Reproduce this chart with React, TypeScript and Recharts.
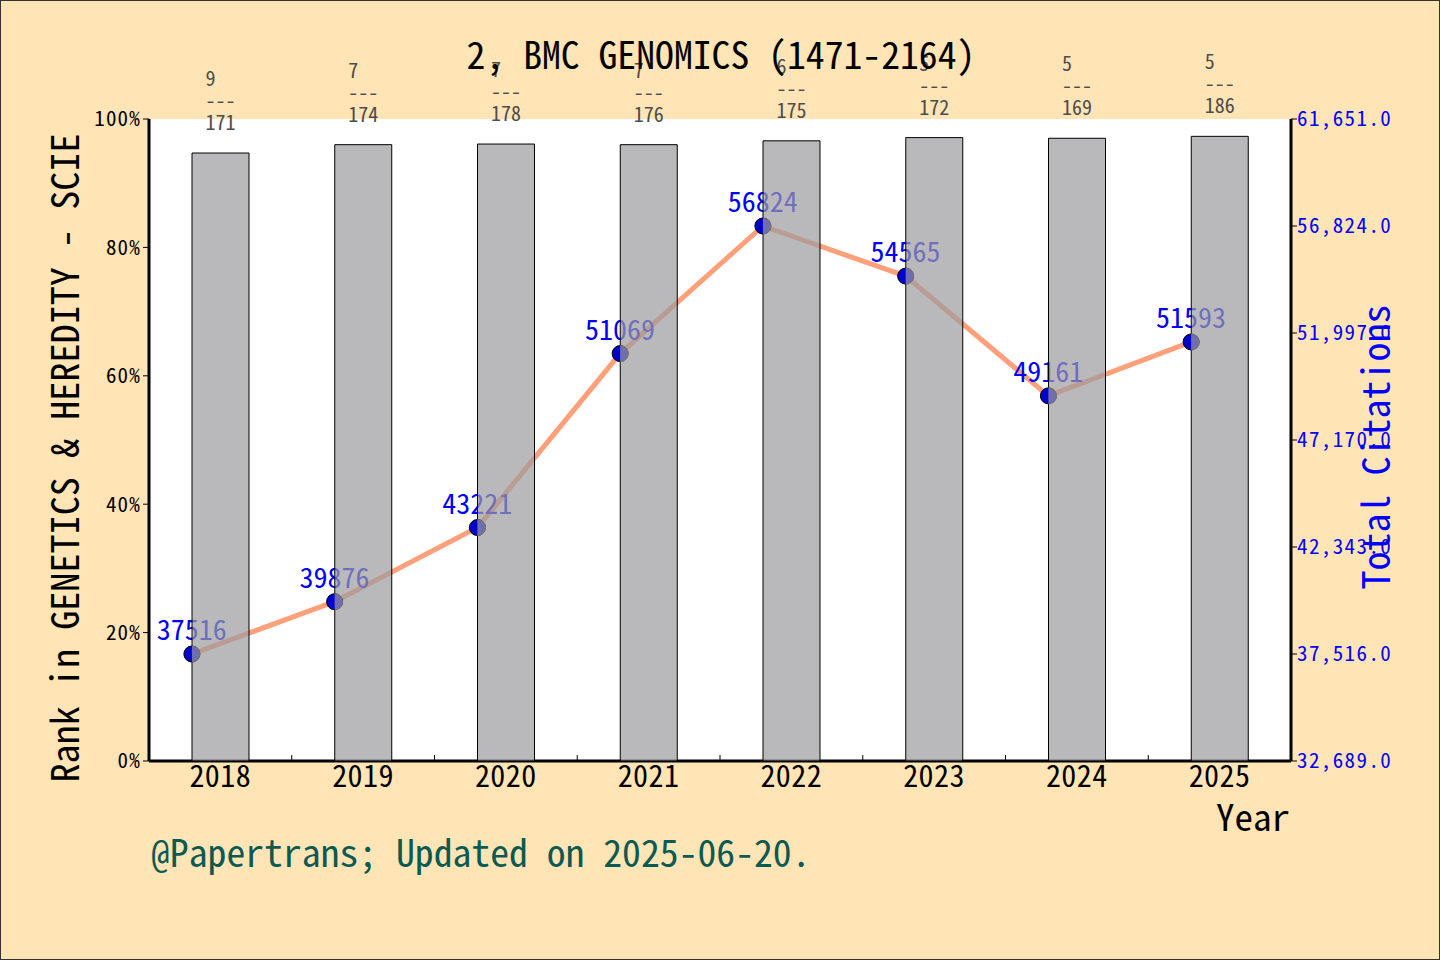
import React from "react";
import { ComposedChart, Bar, Line, XAxis, YAxis, LabelList, CartesianGrid } from "recharts";

const YEARS = ["2018", "2019", "2020", "2021", "2022", "2023", "2024", "2025"];
const RANK = [9, 7, 7, 7, 6, 5, 5, 5];
const JOURNALS = [171, 174, 178, 176, 175, 172, 169, 186];
const PERCENTILE = [94.7, 96.0, 96.1, 96.0, 96.6, 97.1, 97.0, 97.3];
const CITATIONS = [37516, 39876, 43221, 51069, 56824, 54565, 49161, 51593];
const RANK_TICKS = [0, 20, 40, 60, 80, 100];
const CITATION_TICKS = [32689, 37516, 42343, 47170, 51997, 56824, 61651];

const FONT = '"Noto Sans Mono CJK SC", "Noto Sans CJK SC", "Liberation Mono", monospace';
const W = 1440;
const H = 960;
const PLOT_LEFT = 149;
const PLOT_RIGHT = 1291;
const BAND = (PLOT_RIGHT - PLOT_LEFT) / YEARS.length;
const BAR_W = 57;
const BAR_FILL = "#9C9D9F";
const BAR_OPACITY = 0.71;

const data = YEARS.map((year, i) => ({ year, pct: PERCENTILE[i], cites: CITATIONS[i] }));

function YearTick({ x, y, payload }: any) {
  const edge = x + BAND / 2;
  return (
    <g>
      <line x1={edge} x2={edge} y1={y - 6} y2={y} stroke="#000" strokeWidth={1} />
      <text
        x={x}
        y={y + 26}
        textAnchor="middle"
        fontFamily={FONT}
        fontSize={30}
        letterSpacing={0.5}
        fill="#000"
      >
        {payload.value}
      </text>
    </g>
  );
}

function RankLabel({ x, y, width, index }: any) {
  const left = x + width / 2 - 15;
  const style = { fontFamily: FONT, fontSize: 20, fill: "#4d4d4d" };
  return (
    <g>
      <text x={left} y={y - 67} {...style}>{RANK[index]}</text>
      <text x={left} y={y - 45} {...style}>---</text>
      <text x={left} y={y - 23} {...style}>{JOURNALS[index]}</text>
    </g>
  );
}

// the bar starts at the point, so its right half sits under the translucent bar
function CiteDot({ cx, cy }: any) {
  const r = 8;
  const o = r + 0.6;
  return (
    <g>
      <circle cx={cx} cy={cy} r={r} fill="#0000CD" stroke="#000" strokeWidth={1} />
      <path
        d={`M${cx},${cy - o} A${o},${o} 0 0 1 ${cx},${cy + o} Z`}
        fill={BAR_FILL}
        fillOpacity={BAR_OPACITY}
      />
    </g>
  );
}

const fmtCites = (v: number) =>
  v.toLocaleString("en-US", { minimumFractionDigits: 1, maximumFractionDigits: 1 });

export default function App() {
  return (
    <div
      style={{
        position: "absolute",
        left: 0,
        top: 0,
        width: W,
        height: H,
        boxSizing: "border-box",
        border: "1px solid #333",
        background: "#FFE4B5",
        fontFamily: FONT,
      }}
    >
      <ComposedChart
        width={W}
        height={H}
        data={data}
        margin={{ top: 119, left: 69, right: 9, bottom: 139 }}
        style={{ position: "absolute", left: -1, top: -1 }}
      >
        <CartesianGrid yAxisId="left" fill="#fff" horizontal={false} vertical={false} />
        <XAxis
          dataKey="year"
          height={60}
          interval={0}
          tick={<YearTick />}
          tickLine={false}
          tickSize={0}
          tickMargin={0}
          axisLine={{ stroke: "#000", strokeWidth: 3 }}
        />
        <XAxis xAxisId="shift" dataKey="year" hide padding={{ left: -BAR_W / 2, right: BAR_W / 2 }} />
        <XAxis
          xAxisId="top"
          orientation="top"
          dataKey="year"
          height={0}
          tick={false}
          tickLine={false}
          axisLine={{ stroke: "#000", strokeWidth: 3 }}
        />
        <YAxis
          yAxisId="left"
          width={80}
          domain={[0, 100]}
          ticks={RANK_TICKS}
          tickFormatter={(v) => `${v}%`}
          tick={{ fontFamily: FONT, fontSize: 21, fill: "#000", letterSpacing: 1.2 }}
          tickLine={{ stroke: "#000" }}
          tickSize={6}
          tickMargin={2}
          axisLine={{ stroke: "#000", strokeWidth: 3 }}
        />
        <YAxis
          yAxisId="right"
          orientation="right"
          width={140}
          domain={[32689, 61651]}
          ticks={CITATION_TICKS}
          tickFormatter={fmtCites}
          tick={{ fontFamily: FONT, fontSize: 21, fill: "#0000FF", letterSpacing: 1.4 }}
          tickLine={{ stroke: "#000" }}
          tickSize={6}
          tickMargin={0}
          axisLine={{ stroke: "#000", strokeWidth: 3 }}
        />
        <Line
          yAxisId="right"
          xAxisId="shift"
          dataKey="cites"
          type="linear"
          stroke="#FFA07A"
          strokeWidth={5}
          dot={<CiteDot />}
          isAnimationActive={false}
          zIndex={100}
        >
          <LabelList
            dataKey="cites"
            position="top"
            offset={14}
            fill="#0000FF"
            fontFamily={FONT}
            fontSize={28}
            zIndex={150}
          />
        </Line>
        <Bar
          yAxisId="left"
          dataKey="pct"
          barSize={BAR_W}
          fill={BAR_FILL}
          fillOpacity={BAR_OPACITY}
          stroke="#000"
          strokeWidth={1}
          isAnimationActive={false}
          zIndex={500}
        >
          <LabelList dataKey="pct" content={<RankLabel />} zIndex={600} />
        </Bar>
      </ComposedChart>

      <div
        style={{
          position: "absolute",
          left: 0,
          width: W,
          top: 30,
          textAlign: "center",
          fontSize: 37.7,
          lineHeight: "44px",
          color: "#000",
          whiteSpace: "nowrap",
        }}
      >
        2, BMC GENOMICS (1471-2164)
      </div>
      <div
        style={{
          position: "absolute",
          left: 62,
          top: 457,
          transform: "translate(-50%, -50%) rotate(-90deg)",
          whiteSpace: "nowrap",
          fontSize: 38.2,
          lineHeight: "44px",
          color: "#000",
        }}
      >
        Rank in GENETICS &amp; HEREDITY - SCIE
      </div>
      <div
        style={{
          position: "absolute",
          left: 1373,
          top: 446,
          transform: "translate(-50%, -50%) rotate(-90deg)",
          whiteSpace: "nowrap",
          fontSize: 38,
          lineHeight: "44px",
          color: "#0000FF",
        }}
      >
        Total Citations
      </div>
      <div
        style={{
          position: "absolute",
          right: W - 1291,
          top: 792,
          fontSize: 37,
          lineHeight: "44px",
          color: "#000",
        }}
      >
        Year
      </div>
      <div
        style={{
          position: "absolute",
          left: 150,
          top: 828,
          fontSize: 37.7,
          lineHeight: "44px",
          color: "#0B5A52",
          whiteSpace: "nowrap",
        }}
      >
        @Papertrans; Updated on 2025-06-20.
      </div>
    </div>
  );
}
